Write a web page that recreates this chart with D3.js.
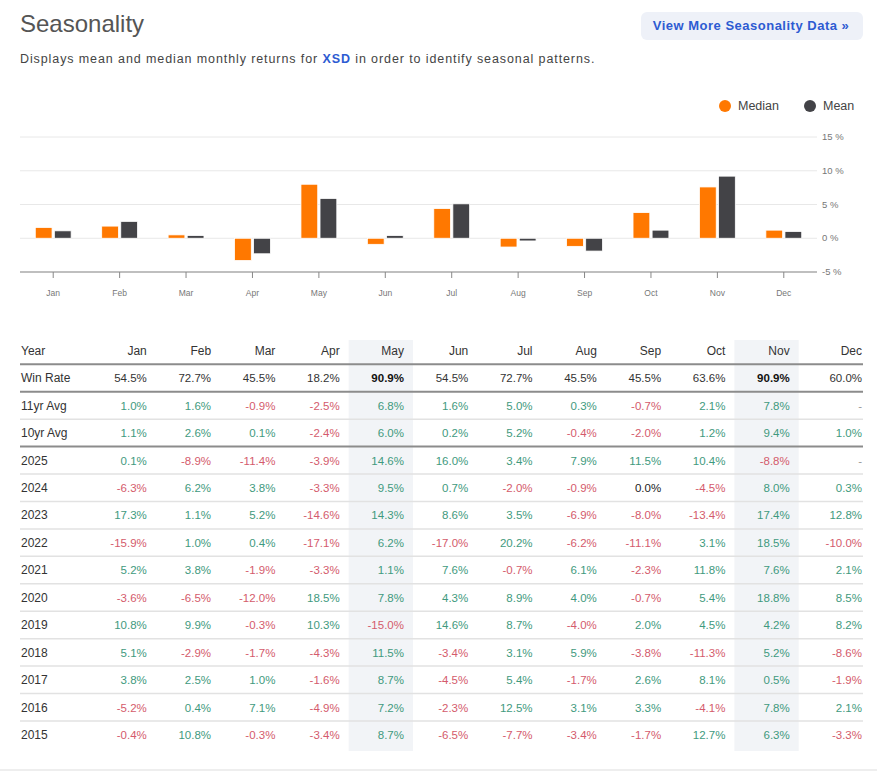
<!DOCTYPE html>
<html>
<head>
<meta charset="utf-8">
<script src="https://cdn.jsdelivr.net/npm/d3@7"></script>
<style>
  body { margin: 0; background: #fff; }
  svg { display: block; font-family: "Liberation Sans", Arial, sans-serif; }
</style>
</head>
<body>
<script>
// chart data
var months = ["Jan", "Feb", "Mar", "Apr", "May", "Jun", "Jul", "Aug", "Sep", "Oct", "Nov", "Dec"];
var medianVals = [1.6, 1.8, 0.5, -3.3, 8.0, -0.9, 4.4, -1.3, -1.2, 3.8, 7.6, 1.2];
var meanVals = [1.1, 2.5, 0.4, -2.3, 5.9, 0.4, 5.1, -0.4, -1.9, 1.2, 9.2, 1.0];
var yTicks = [-5, 0, 5, 10, 15];

// table data
var winRate = [54.5, 72.7, 45.5, 18.2, 90.9, 54.5, 72.7, 45.5, 45.5, 63.6, 90.9, 60.0];
var avg11 = [1.0, 1.6, -0.9, -2.5, 6.8, 1.6, 5.0, 0.3, -0.7, 2.1, 7.8, null];
var avg10 = [1.1, 2.6, 0.1, -2.4, 6.0, 0.2, 5.2, -0.4, -2.0, 1.2, 9.4, 1.0];
var ret2025 = [0.1, -8.9, -11.4, -3.9, 14.6, 16.0, 3.4, 7.9, 11.5, 10.4, -8.8, null];
var ret2024 = [-6.3, 6.2, 3.8, -3.3, 9.5, 0.7, -2.0, -0.9, 0.0, -4.5, 8.0, 0.3];
var ret2023 = [17.3, 1.1, 5.2, -14.6, 14.3, 8.6, 3.5, -6.9, -8.0, -13.4, 17.4, 12.8];
var ret2022 = [-15.9, 1.0, 0.4, -17.1, 6.2, -17.0, 20.2, -6.2, -11.1, 3.1, 18.5, -10.0];
var ret2021 = [5.2, 3.8, -1.9, -3.3, 1.1, 7.6, -0.7, 6.1, -2.3, 11.8, 7.6, 2.1];
var ret2020 = [-3.6, -6.5, -12.0, 18.5, 7.8, 4.3, 8.9, 4.0, -0.7, 5.4, 18.8, 8.5];
var ret2019 = [10.8, 9.9, -0.3, 10.3, -15.0, 14.6, 8.7, -4.0, 2.0, 4.5, 4.2, 8.2];
var ret2018 = [5.1, -2.9, -1.7, -4.3, 11.5, -3.4, 3.1, 5.9, -3.8, -11.3, 5.2, -8.6];
var ret2017 = [3.8, 2.5, 1.0, -1.6, 8.7, -4.5, 5.4, -1.7, 2.6, 8.1, 0.5, -1.9];
var ret2016 = [-5.2, 0.4, 7.1, -4.9, 7.2, -2.3, 12.5, 3.1, 3.3, -4.1, 7.8, 2.1];
var ret2015 = [-0.4, 10.8, -0.3, -3.4, 8.7, -6.5, -7.7, -3.4, -1.7, 12.7, 6.3, -3.3];

var rows = [
  { label: "Win Rate", vals: winRate, win: true },
  { label: "11yr Avg", vals: avg11 },
  { label: "10yr Avg", vals: avg10 },
  { label: "2025", vals: ret2025 },
  { label: "2024", vals: ret2024 },
  { label: "2023", vals: ret2023 },
  { label: "2022", vals: ret2022 },
  { label: "2021", vals: ret2021 },
  { label: "2020", vals: ret2020 },
  { label: "2019", vals: ret2019 },
  { label: "2018", vals: ret2018 },
  { label: "2017", vals: ret2017 },
  { label: "2016", vals: ret2016 },
  { label: "2015", vals: ret2015 }
];

var W = 877, H = 772;
var orange = "#ff7800", dark = "#434347";
var green = "#3f9a7e", red = "#d45b6c";

var svg = d3.select("body").append("svg")
    .attr("width", W)
    .attr("height", H);

// header
svg.append("text")
    .attr("x", 20).attr("y", 32)
    .attr("font-size", 24)
    .attr("fill", "#555")
    .text("Seasonality");

svg.append("rect")
    .attr("x", 641).attr("y", 12)
    .attr("width", 222).attr("height", 28)
    .attr("rx", 6)
    .attr("fill", "#eef1f8");
svg.append("text")
    .attr("x", 751).attr("y", 30)
    .attr("text-anchor", "middle")
    .attr("font-size", 13)
    .attr("letter-spacing", 0.5)
    .attr("font-weight", "bold")
    .attr("fill", "#2d5bd2")
    .text("View More Seasonality Data \u00bb");

var sub = svg.append("text")
    .attr("x", 20).attr("y", 63)
    .attr("font-size", 12.5)
    .attr("letter-spacing", 0.9)
    .attr("fill", "#444");
sub.append("tspan").text("Displays mean and median monthly returns for ");
sub.append("tspan").attr("font-weight", "bold").attr("fill", "#2d5bd2").text("XSD");
sub.append("tspan").text(" in order to identify seasonal patterns.");

// legend
var legend = svg.append("g").attr("font-size", 12.5).attr("fill", "#444");
[["Median", orange, 725], ["Mean", dark, 810]].forEach(function (l) {
    legend.append("circle").attr("cx", l[2]).attr("cy", 106).attr("r", 6).attr("fill", l[1]);
    legend.append("text").attr("x", l[2] + 13).attr("y", 110).text(l[0]);
});

// bar chart
var x = d3.scaleBand().domain(months).range([20, 817]).paddingInner(0.46).paddingOuter(0.23);
var x1 = d3.scaleBand().domain(["median", "mean"]).range([0, x.bandwidth()]).paddingInner(0.12);
var y = d3.scaleLinear().domain([-5, 15]).range([272, 137]);

svg.append("g").selectAll("line")
    .data(yTicks.filter(function (t) { return t > -5; }))
    .enter().append("line")
    .attr("x1", 20).attr("x2", 817)
    .attr("y1", function (d) { return y(d); })
    .attr("y2", function (d) { return y(d); })
    .attr("stroke", "#e8e8e8");

svg.append("g").selectAll("text")
    .data(yTicks)
    .enter().append("text")
    .attr("x", 822)
    .attr("y", function (d) { return y(d) + 3; })
    .attr("font-size", 9.5)
    .attr("fill", "#777")
    .text(function (d) { return d + " %"; });

var groups = svg.append("g").selectAll("g")
    .data(months)
    .enter().append("g")
    .attr("transform", function (d) { return "translate(" + x(d) + ",0)"; });

groups.selectAll("rect")
    .data(function (d, i) {
        return [{ key: "median", v: medianVals[i] }, { key: "mean", v: meanVals[i] }];
    })
    .enter().append("rect")
    .attr("x", function (d) { return x1(d.key); })
    .attr("width", x1.bandwidth())
    .attr("y", function (d) { return y(Math.max(0, d.v)); })
    .attr("height", function (d) { return Math.abs(y(d.v) - y(0)); })
    .attr("fill", function (d) { return d.key === "median" ? orange : dark; })
    .attr("stroke", "#fff")
    .attr("stroke-width", 0.8);

var xAxis = svg.append("g")
    .attr("transform", "translate(0," + y(-5) + ")")
    .call(d3.axisBottom(x).tickSize(6).tickPadding(12).tickSizeOuter(0));
xAxis.select(".domain").attr("stroke", "#aaa").attr("stroke-width", 1.5)
    .attr("d", "M20,0H817");
xAxis.selectAll(".tick line").attr("stroke", "#888");
xAxis.selectAll(".tick text")
    .attr("font-family", "Liberation Sans, Arial, sans-serif")
    .attr("font-size", 8.5)
    .attr("fill", "#777");

// table
var cx = d3.scaleBand().domain(months).range([91.5, 863]);
var rowY = d3.scaleLinear().domain([0, rows.length - 1]).range([378.3, 735]);
var rowH = rowY(1) - rowY(0);
var maxWin = d3.max(winRate);
var hiMonths = months.filter(function (m, i) { return winRate[i] === maxWin; });

svg.append("g").selectAll("rect")
    .data(hiMonths)
    .enter().append("rect")
    .attr("x", function (d) { return cx(d); })
    .attr("width", cx.bandwidth())
    .attr("y", 340)
    .attr("height", 411)
    .attr("fill", "#f2f4f7");

function textX(m) {
    return m === "Dec" ? cx(m) + cx.bandwidth() - 1 : cx(m) + cx.bandwidth() - 9;
}

var head = svg.append("g").attr("font-size", 12).attr("fill", "#333");
head.append("text").attr("x", 21).attr("y", 355).text("Year");
head.selectAll(".mh")
    .data(months)
    .enter().append("text")
    .attr("class", "mh")
    .attr("x", textX)
    .attr("y", 355)
    .attr("text-anchor", "end")
    .text(function (d) { return d; });

// row separators
var thick = [0, 1, 3];
svg.append("g").selectAll("line")
    .data(d3.range(rows.length))
    .enter().append("line")
    .attr("x1", 20).attr("x2", 863)
    .attr("y1", function (i) { return rowY(i) - rowH / 2 - 0.3; })
    .attr("y2", function (i) { return rowY(i) - rowH / 2 - 0.3; })
    .attr("stroke", function (i) { return thick.indexOf(i) >= 0 ? "#8c8c8c" : "#e2e2e2"; })
    .attr("stroke-width", function (i) { return thick.indexOf(i) >= 0 ? 2 : 1.5; });

var fmt = d3.formatLocale({ decimal: ".", thousands: ",", grouping: [3], currency: ["$", ""], minus: "-" }).format(".1f");
var rowG = svg.append("g").selectAll("g")
    .data(rows)
    .enter().append("g")
    .attr("transform", function (d, i) { return "translate(0," + (rowY(i) + 4) + ")"; })
    .attr("font-size", 11.5);

rowG.append("text")
    .attr("x", 21)
    .attr("fill", "#333")
    .attr("font-size", 12)
    .text(function (d) { return d.label; });

rowG.selectAll(".cell")
    .data(function (d) {
        return d.vals.map(function (v, i) { return { v: v, m: months[i], win: d.win }; });
    })
    .enter().append("text")
    .attr("class", "cell")
    .attr("x", function (d) { return textX(d.m); })
    .attr("text-anchor", "end")
    .attr("font-weight", function (d) { return d.win && d.v === maxWin ? "bold" : null; })
    .attr("fill", function (d) {
        if (d.win) return d.v === maxWin ? "#111" : "#333";
        if (d.v === null) return "#999";
        if (d.v > 0) return green;
        if (d.v < 0) return red;
        return "#222";
    })
    .text(function (d) { return d.v === null ? "-" : fmt(d.v) + "%"; });

svg.append("line")
    .attr("x1", 0).attr("x2", W)
    .attr("y1", 770).attr("y2", 770)
    .attr("stroke", "#eee")
    .attr("stroke-width", 2);
</script>
</body>
</html>
